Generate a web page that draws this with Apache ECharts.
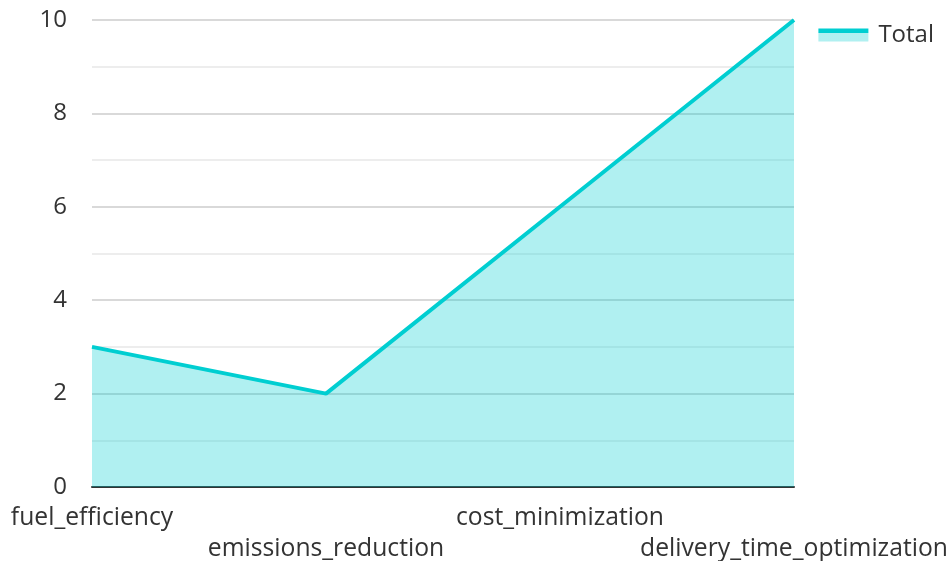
<!DOCTYPE html>
<html>
<head>
<meta charset="utf-8">
<script src="https://cdn.jsdelivr.net/npm/echarts@6/dist/echarts.min.js"></script>
<style>
  html, body { margin: 0; padding: 0; background: #fff; }
  #chart { width: 949px; height: 561px; }
</style>
</head>
<body>
<div id="chart"></div>
<script>
// Objective categories and their totals
const categories = ['fuel_efficiency', 'emissions_reduction', 'cost_minimization', 'delivery_time_optimization'];
const totals = [3, 2, 6, 10];
const seriesName = 'Total';

const lineColor = '#00CED1';
const areaColor = 'rgba(0, 206, 209, 0.31)';
const fontFamily = '"Open Sans", "Noto Sans", sans-serif';

const chart = echarts.init(document.getElementById('chart'), null, { renderer: 'canvas' });

chart.setOption({
  animation: false,
  textStyle: { fontFamily: fontFamily },
  grid: { left: 92, right: 155, top: 20, bottom: 74, containLabel: false, outerBoundsMode: 'none' },
  legend: {
    show: true,
    right: 10,
    top: 18,
    icon: 'rect',
    itemWidth: 50,
    itemHeight: 13,
    itemStyle: {
      // solid stroke band over a translucent fill band
      color: {
        type: 'linear', x: 0, y: 0, x2: 0, y2: 1,
        colorStops: [
          { offset: 0, color: lineColor },
          { offset: 0.31, color: lineColor },
          { offset: 0.31, color: areaColor },
          { offset: 1, color: areaColor }
        ]
      },
      borderWidth: 0
    },
    lineStyle: { opacity: 0 },
    textStyle: { fontSize: 24, color: '#333', fontFamily: fontFamily, padding: [0, 0, 8, 5] },
    data: [seriesName]
  },
  xAxis: {
    type: 'category',
    data: categories,
    boundaryGap: false,
    axisLine: { show: true, lineStyle: { color: '#333', width: 2 } },
    axisTick: { show: false },
    splitLine: { show: false },
    axisLabel: {
      interval: 0,
      margin: 15,
      fontSize: 24.7,
      color: '#333',
      lineHeight: 31,
      formatter: function (value, index) {
        return index % 2 === 1 ? '\n' + value : value;
      }
    }
  },
  yAxis: {
    type: 'value',
    min: 0,
    max: 10,
    interval: 2,
    axisLine: { show: false },
    axisTick: { show: false },
    axisLabel: { margin: 25, fontSize: 24, color: '#333' },
    splitLine: { show: true, lineStyle: { color: '#cccccc', width: 1.5 } },
    minorTick: { show: false, splitNumber: 2 },
    minorSplitLine: { show: true, lineStyle: { color: '#e8e8e8', width: 1.5 } }
  },
  series: [{
    name: seriesName,
    type: 'line',
    data: totals,
    showSymbol: false,
    symbol: 'none',
    lineStyle: { color: lineColor, width: 4 },
    itemStyle: { color: lineColor },
    areaStyle: { color: areaColor, opacity: 1, origin: 'start' },
    z: 2
  }]
});
</script>
</body>
</html>
